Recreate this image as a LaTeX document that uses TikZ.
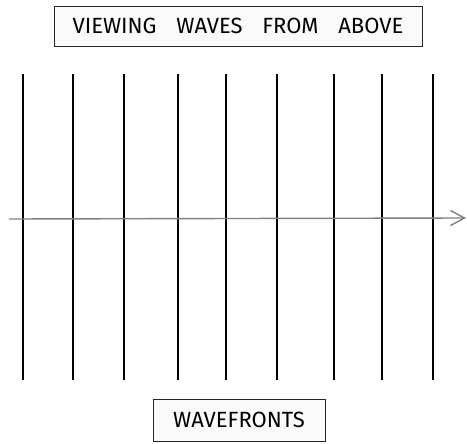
\documentclass[tikz,border=0pt]{standalone}
\usepackage{fontspec}
\setmainfont{Fira Sans}
\usetikzlibrary{arrows.meta}
\begin{document}
\begin{tikzpicture}[x=1pt,y=-1pt,
  label box/.style={draw=black!85,line width=0.9pt,fill=black!2,inner sep=0pt,font=\fontsize{22}{25}\selectfont},
  wavefront/.style={draw=black,line width=1.4pt},
  ray/.style={draw=black!50,line width=1.4pt,-{Straight Barb[length=14pt,width=15pt,line width=1.4pt]}}]
\useasboundingbox (0,0) rectangle (467,444);
\node[label box,minimum width=368pt,minimum height=40pt] (title) at (238,26) {VIEWING\hspace{0.9em}WAVES\hspace{0.9em}FROM\hspace{0.9em}ABOVE};
\node[label box,minimum width=172pt,minimum height=42pt] (caption) at (239,420) {WAVEFRONTS};
\foreach \i/\x in {1/23,2/73,3/124,4/178,5/226,6/277,7/334,8/382,9/433}{
  \coordinate (t\i) at (\x,74);
  \coordinate (b\i) at (\x,380);
  \draw[wavefront] (t\i) -- (b\i);
}
\coordinate (rs) at (9,219);
\coordinate (re) at (466,218);
\draw[ray] (rs) -- (re);
\end{tikzpicture}
\end{document}
